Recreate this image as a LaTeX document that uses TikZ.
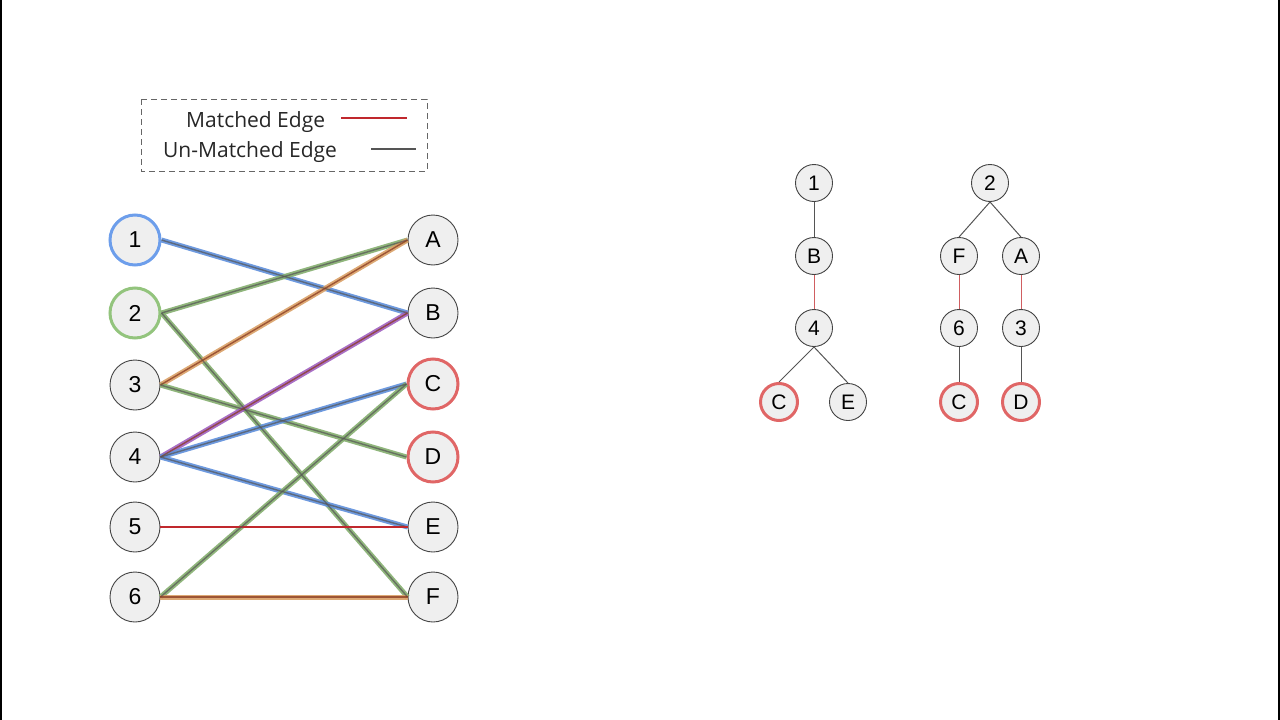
\documentclass[tikz,border=0pt]{standalone}
\usepackage{fontspec}
\setmainfont{Liberation Sans}
\newfontfamily\legendfont{Open Sans}
\begin{document}
\begin{tikzpicture}[x=1pt,y=-1pt]
\definecolor{nodefill}{HTML}{EFEFEF}
\definecolor{nodeline}{HTML}{444444}
\definecolor{hlblue}{HTML}{5E8FDB}
\definecolor{hlgreen}{HTML}{84AE6E}
\definecolor{hlorange}{HTML}{D9A066}
\definecolor{hlpurple}{HTML}{A060C0}
\definecolor{ringblue}{HTML}{6D9EEB}
\definecolor{ringgreen}{HTML}{93C47D}
\definecolor{ringred}{HTML}{E06666}
\definecolor{matchred}{HTML}{C0282D}
\definecolor{darkmatch}{HTML}{8A3A20}
\definecolor{unmatch}{HTML}{555555}
\tikzset{
  bignode/.style={circle,draw=nodeline,line width=0.9pt,fill=nodefill,minimum size=50pt,inner sep=0pt,font=\fontsize{23}{27}\selectfont},
  treenode/.style={circle,draw=nodeline,line width=0.9pt,fill=nodefill,minimum size=37pt,inner sep=0pt,font=\fontsize{21}{25}\selectfont},
  ringb/.style={draw=ringblue,line width=3pt},
  ringg/.style={draw=ringgreen,line width=3pt},
  ringr/.style={draw=ringred,line width=3pt},
  hl/.style={line width=5pt,opacity=0.9},
  medge/.style={draw=darkmatch,line width=1.4pt,opacity=0.75},
  uedge/.style={draw=unmatch,line width=1.4pt,opacity=0.7},
  tmedge/.style={draw=matchred!75,line width=1pt},
  tuedge/.style={draw=unmatch,line width=1pt},
  legtext/.style={font=\legendfont\fontsize{21}{25}\selectfont,anchor=base west,inner sep=0pt,text=black!85}
}
\useasboundingbox (0,0) rectangle (1280,720);
\fill[black] (0,0) rectangle (1.5,720);
\fill[black] (1277.5,0) rectangle (1280,720);

% legend
\draw[draw=black!60,line width=1pt,dash pattern=on 6pt off 4pt] (141,99) rectangle (427,171);
\node[legtext] (lm) at (186,127) {Matched Edge};
\node[legtext] (lu) at (163,157) {Un-Matched Edge};
\coordinate (lm1) at (341,118);
\coordinate (lm2) at (407,118);
\coordinate (lu1) at (371,149);
\coordinate (lu2) at (416,149);
\draw[draw=matchred,line width=1.2pt] (lm1) -- (lm2);
\draw[draw=unmatch,line width=1.2pt] (lu1) -- (lu2);

% left bipartite nodes
\node[bignode,ringb] (n1) at (135,240) {1};
\node[bignode,ringg] (n2) at (135,313) {2};
\node[bignode] (n3) at (135,385) {3};
\node[bignode] (n4) at (135,457) {4};
\node[bignode] (n5) at (135,527) {5};
\node[bignode] (n6) at (135,597) {6};
\node[bignode] (nA) at (433,240) {A};
\node[bignode] (nB) at (433,313) {B};
\node[bignode,ringr] (nC) at (433,384) {C};
\node[bignode,ringr] (nD) at (433,457) {D};
\node[bignode] (nE) at (433,527) {E};
\node[bignode] (nF) at (433,597) {F};

% highlights
\draw[hl,hlblue] (n1.east) -- (nB.west);
\draw[hl,hlgreen] (n2.east) -- (nA.west);
\draw[hl,hlgreen] (n2.east) -- (nF.west);
\draw[hl,hlorange] (n3.east) -- (nA.west);
\draw[hl,hlgreen] (n3.east) -- (nD.west);
\draw[hl,hlpurple] (n4.east) -- (nB.west);
\draw[hl,hlblue] (n4.east) -- (nC.west);
\draw[hl,hlblue] (n4.east) -- (nE.west);
\draw[hl,hlgreen] (n6.east) -- (nC.west);
\draw[hl,hlorange] (n6.east) -- (nF.west);
% edges
\draw[uedge] (n1.east) -- (nB.west);
\draw[uedge] (n2.east) -- (nA.west);
\draw[uedge] (n2.east) -- (nF.west);
\draw[medge] (n3.east) -- (nA.west);
\draw[uedge] (n3.east) -- (nD.west);
\draw[medge] (n4.east) -- (nB.west);
\draw[uedge] (n4.east) -- (nC.west);
\draw[uedge] (n4.east) -- (nE.west);
\draw[draw=matchred,line width=1.2pt] (n5.east) -- (nE.west);
\draw[uedge] (n6.east) -- (nC.west);
\draw[medge] (n6.east) -- (nF.west);

% tree 1
\node[treenode] (t1) at (814,183) {1};
\node[treenode] (tB) at (814,256) {B};
\node[treenode] (t4) at (814,328) {4};
\node[treenode,ringr] (tC) at (779,402) {C};
\node[treenode] (tE) at (848,402) {E};
\draw[tuedge] (t1.south) -- (tB.north);
\draw[tmedge] (tB.south) -- (t4.north);
\draw[tuedge] (t4.south) -- (tC.north);
\draw[tuedge] (t4.south) -- (tE.north);

% tree 2
\node[treenode] (u2) at (990,183) {2};
\node[treenode] (uF) at (959,256) {F};
\node[treenode] (uA) at (1021,256) {A};
\node[treenode] (u6) at (959,328) {6};
\node[treenode] (u3) at (1021,328) {3};
\node[treenode,ringr] (uC) at (959,402) {C};
\node[treenode,ringr] (uD) at (1021,402) {D};
\draw[tuedge] (u2.south) -- (uF.north);
\draw[tuedge] (u2.south) -- (uA.north);
\draw[tmedge] (uF.south) -- (u6.north);
\draw[tmedge] (uA.south) -- (u3.north);
\draw[tuedge] (u6.south) -- (uC.north);
\draw[tuedge] (u3.south) -- (uD.north);
\end{tikzpicture}
\end{document}
